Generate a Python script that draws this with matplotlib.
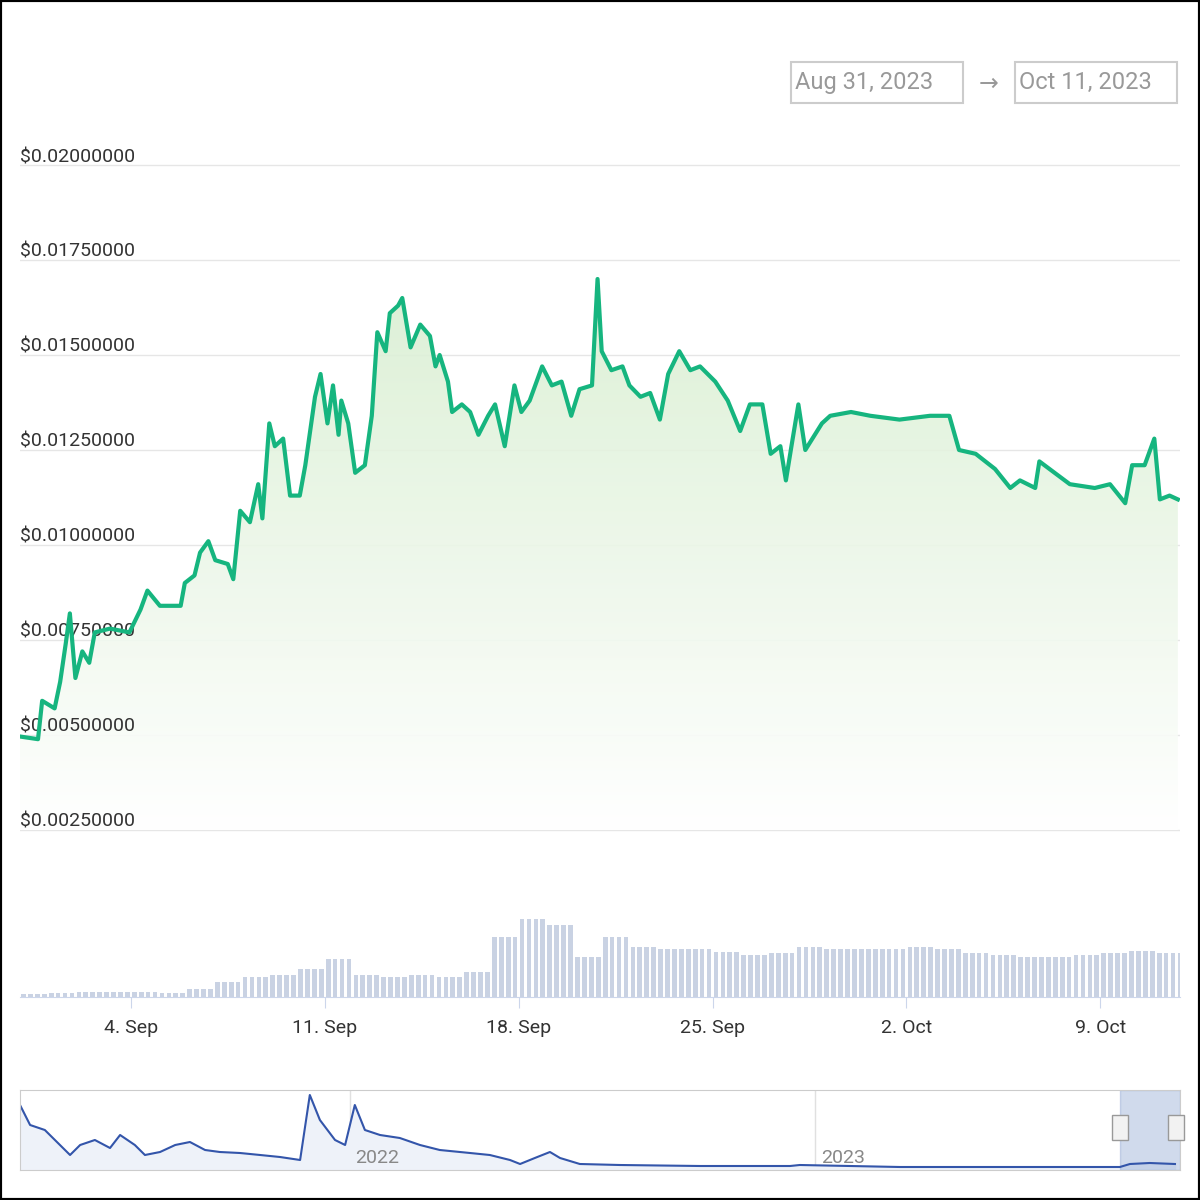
import matplotlib.pyplot as plt
from matplotlib.patches import Rectangle, Polygon
from matplotlib.colors import LinearSegmentedColormap
import numpy as np

plt.rcParams['font.family'] = ['Roboto', 'DejaVu Sans']

# price: days since Aug 31 2023, USD
days = [0.0, 0.65, 0.8, 1.25, 1.45, 1.65, 1.8, 2.0, 2.25, 2.5, 2.7, 3.25, 3.95, 4.35, 4.6,
        5.05, 5.8, 5.95, 6.3, 6.5, 6.8, 7.05, 7.5, 7.7, 7.95, 8.3, 8.6, 8.75, 9.0, 9.2, 9.5,
        9.75, 10.1, 10.3, 10.65, 10.85, 11.1, 11.3, 11.5, 11.6, 11.85, 12.1, 12.45, 12.7,
        12.9, 13.2, 13.35, 13.65, 13.8, 14.1, 14.45, 14.8, 15.0, 15.15, 15.45, 15.6, 15.95,
        16.25, 16.55, 16.9, 17.15, 17.5, 17.85, 18.1, 18.4, 18.85, 19.2, 19.55, 19.9, 20.2,
        20.65, 20.85, 21.0, 21.35, 21.75, 22.0, 22.4, 22.75, 23.1, 23.4, 23.8, 24.2, 24.55,
        25.1, 25.55, 26.0, 26.35, 26.8, 27.1, 27.45, 27.65, 27.85, 28.1, 28.35, 28.95, 29.25,
        30.0, 30.7, 31.75, 32.85, 33.55, 33.9, 34.5, 35.2, 35.75, 36.1, 36.65, 36.8, 37.35,
        37.9, 38.8, 39.35, 39.9, 40.15, 40.6, 40.95, 41.15, 41.5, 41.8]
price = [0.00496, 0.00489, 0.0059, 0.0057, 0.0064, 0.0074, 0.0082, 0.0065, 0.0072, 0.0069,
         0.0077, 0.0078, 0.0077, 0.0083, 0.0088, 0.0084, 0.0084, 0.0090, 0.0092, 0.0098,
         0.0101, 0.0096, 0.0095, 0.0091, 0.0109, 0.0106, 0.0116, 0.0107, 0.0132, 0.0126,
         0.0128, 0.0113, 0.0113, 0.0121, 0.0139, 0.0145, 0.0132, 0.0142, 0.0129, 0.0138,
         0.0132, 0.0119, 0.0121, 0.0134, 0.0156, 0.0151, 0.0161, 0.0163, 0.0165, 0.0152,
         0.0158, 0.0155, 0.0147, 0.0150, 0.0143, 0.0135, 0.0137, 0.0135, 0.0129, 0.0134,
         0.0137, 0.0126, 0.0142, 0.0135, 0.0138, 0.0147, 0.0142, 0.0143, 0.0134, 0.0141,
         0.0142, 0.0170, 0.0151, 0.0146, 0.0147, 0.0142, 0.0139, 0.0140, 0.0133, 0.0145,
         0.0151, 0.0146, 0.0147, 0.0143, 0.0138, 0.0130, 0.0137, 0.0137, 0.0124, 0.0126,
         0.0117, 0.0126, 0.0137, 0.0125, 0.0132, 0.0134, 0.0135, 0.0134, 0.0133, 0.0134,
         0.0134, 0.0125, 0.0124, 0.0120, 0.0115, 0.0117, 0.0115, 0.0122, 0.0119, 0.0116,
         0.0115, 0.0116, 0.0111, 0.0121, 0.0121, 0.0128, 0.0112, 0.0113, 0.0112]

# daily volume (relative)
volume = [3, 4, 5, 5, 5, 4, 8, 15, 20, 22, 28, 38, 22, 20, 22, 20, 25, 60, 78, 72, 40, 60,
          50, 48, 48, 45, 42, 44, 50, 48, 48, 48, 50, 48, 44, 42, 40, 40, 42, 44, 46, 44]

yticks = [0.0025, 0.005, 0.0075, 0.01, 0.0125, 0.015, 0.0175, 0.02]
xtick_days = [4, 11, 18, 25, 32, 39]
xtick_labels = ['4. Sep', '11. Sep', '18. Sep', '25. Sep', '2. Oct', '9. Oct']

# navigator: months since mid-Apr 2021, relative price
nav_m = [0, 0.26, 0.64, 0.9, 1.29, 1.55, 1.93, 2.32, 2.58, 2.96, 3.22, 3.61, 4.0, 4.38,
         4.77, 5.15, 5.67, 6.19, 6.7, 7.22, 7.47, 7.73, 8.12, 8.38, 8.63, 8.89, 9.28, 9.79,
         10.31, 10.82, 11.6, 12.11, 12.63, 12.89, 13.27, 13.66, 13.92, 14.43, 15.46, 17.53,
         19.85, 20.1, 22.68, 25.26, 28.35, 28.61, 29.12, 29.77]
nav_v = [65, 45, 40, 30, 15, 25, 30, 22, 35, 25, 15, 18, 25, 28, 20, 18, 17, 15, 13, 10,
         75, 50, 30, 25, 65, 40, 35, 32, 25, 20, 17, 15, 10, 6, 12, 18, 12, 6, 5, 4, 4, 5,
         3, 3, 3, 6, 7, 6]

fig = plt.figure(figsize=(12, 12), dpi=100)
W, H = 1200, 1200

def px_axes(x0, y0, x1, y1):
    return fig.add_axes([x0 / W, 1 - y1 / H, (x1 - x0) / W, (y1 - y0) / H])

green = '#16b57f'
xmax = 1160 / 27.7

# price axes
ax = px_axes(20, 130, 1180, 997)
per = 0.0025 / 95.0
ax.set_ylim(0.02 - (997 - 165) * per, 0.02 + (165 - 130) * per)
ax.set_xlim(0, xmax)
for t in yticks:
    ax.axhline(t, color='#e6e6e6', lw=1, zorder=0)
    ax.text(0, t + 8 * per, f'${t:.8f}', fontsize=14, color='#333333', va='center', ha='left')
grad = np.linspace(0, 1, 256).reshape(-1, 1)
cmap = LinearSegmentedColormap.from_list('g', ['#ffffff', '#d9efd2'])
im = ax.imshow(grad, cmap=cmap, aspect='auto', origin='lower',
               extent=[0, xmax, 0.0025, max(price)], zorder=1, alpha=0.9)
poly = Polygon(list(zip(days, price)) + [(days[-1], 0.0025), (0, 0.0025)], closed=True,
               transform=ax.transData, facecolor='none', edgecolor='none')
ax.add_patch(poly)
im.set_clip_path(poly)
ax.plot(days, price, color=green, lw=3, zorder=3)
ax.axis('off')

# volume axes (6-hour bars)
vol6 = np.repeat(volume, 4)
vax = px_axes(20, 900, 1180, 997)
vax.bar(np.arange(len(vol6)) * 0.25 + 0.125, vol6, width=0.17, color='#c9d2e3')
vax.set_xlim(0, xmax)
vax.set_ylim(0, 97)
for s in ['top', 'left', 'right']:
    vax.spines[s].set_visible(False)
vax.spines['bottom'].set_color('#ccd6eb')
vax.set_yticks([])
vax.set_xticks(xtick_days)
vax.set_xticklabels(xtick_labels, fontsize=14, color='#333333')
vax.tick_params(axis='x', length=8, color='#ccd6eb', pad=8)

# navigator
nax = px_axes(20, 1090, 1180, 1170)
nax.plot(nav_m, nav_v, color='#3355aa', lw=1.5)
nax.fill_between(nav_m, nav_v, 0, color='#eef2f9')
nax.set_xlim(0, 29.9)
nax.set_ylim(0, 80)
nax.set_xticks([])
nax.set_yticks([])
for s in nax.spines.values():
    s.set_color('#cccccc')
for m, lab in [(8.5, '2022'), (20.5, '2023')]:
    nax.axvline(m, color='#e0e0e0', lw=1, zorder=0)
    nax.text(m + 0.15, 3, lab, fontsize=14, color='#888888', va='bottom')
nax.axvspan(28.35, 29.9, color='#6685c2', alpha=0.3)
for m in [28.35, 29.9 - 0.1]:
    nax.add_patch(Rectangle((m - 0.2, 30), 0.4, 25, facecolor='#f2f2f2',
                            edgecolor='#999999', lw=1, zorder=5, clip_on=False))

# range selector boxes
for x0, x1, txt in [(791, 963, 'Aug 31, 2023'), (1015, 1177, 'Oct 11, 2023')]:
    fig.patches.append(Rectangle((x0 / W, 1 - 103 / H), (x1 - x0) / W, 41 / H,
                                 transform=fig.transFigure, facecolor='white',
                                 edgecolor='#cccccc', lw=1.5))
    fig.text((x0 + 4) / W, 1 - 82 / H, txt, fontsize=17, color='#999999',
             ha='left', va='center')
fig.text(989 / W, 1 - 84 / H, '→', fontsize=17, color='#999999', ha='center', va='center')

# outer frame
fig.patches.append(Rectangle((0, 0), 1, 1, transform=fig.transFigure, facecolor='none',
                             edgecolor='black', lw=3))

fig.savefig('out.png', dpi=100)
